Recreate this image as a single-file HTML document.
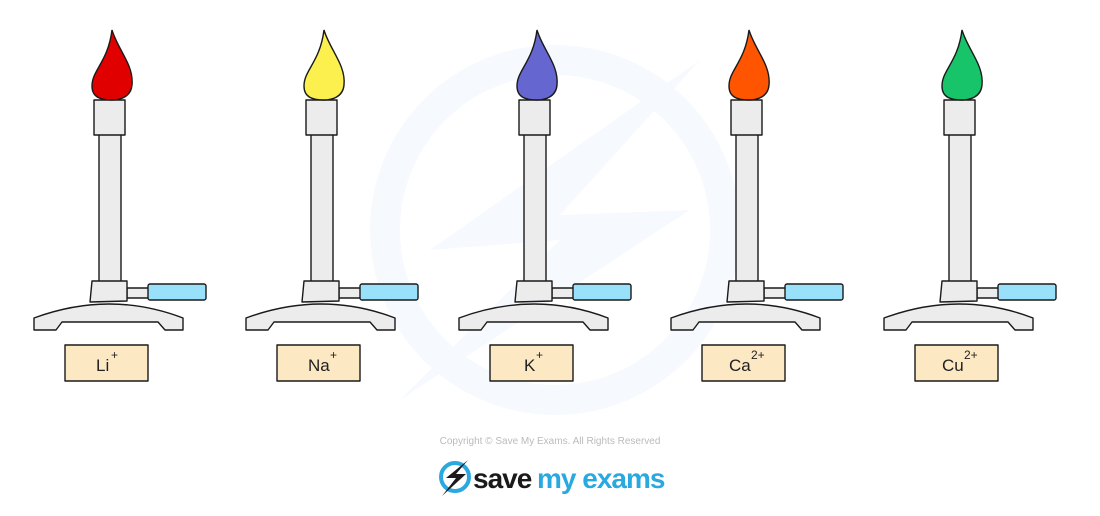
<!DOCTYPE html>
<html><head><style>
body{margin:0;background:#fff;width:1100px;height:511px;overflow:hidden;font-family:"Liberation Sans",sans-serif}
</style></head><body>
<svg width="1100" height="511" viewBox="0 0 1100 511" xmlns="http://www.w3.org/2000/svg">
<defs>
<g id="b" stroke="#1a1a1a" stroke-width="1.4" stroke-linejoin="round">
  <rect x="99" y="134" width="22" height="148" fill="#ececec"/>
  <rect x="127" y="288" width="22" height="10" fill="#ececec"/>
  <rect x="148" y="284" width="58" height="16" rx="2" fill="#99e0fb"/>
  <path d="M34,318 Q110,290 183,318 L183,330 L165,330 L158,322 L62,322 L56,330 L34,330 Z" fill="#ececec"/>
  <path d="M92,281 L127,281 L127,301 L90,302 Z" fill="#ececec"/>
  <rect x="94" y="100" width="31" height="35" fill="#ececec"/>
  <rect x="65" y="345" width="83" height="36" fill="#fde8c4"/>
</g>
</defs>
<g opacity="0.035" fill="#2a7bd0">
<circle cx="555" cy="230" r="170" fill="none" stroke="#2a7bd0" stroke-width="30"/>
<path d="M700,60 L430,250 L560,240 L400,400 L690,210 L560,215 Z"/>
</g>
<g><use href="#b"/><path d="M112,30 C118,50 134,65 132,85 C131,97 120,100 112,100 C100,100 92,97 92,86 C92,70 108,62 112,30 Z" fill="#e00000" stroke="#1a1a1a" stroke-width="1.4"/><text x="96" y="371" font-size="17" fill="#222">Li</text><text x="111" y="359" font-size="12" fill="#222">+</text></g>
<g transform="translate(212,0)"><use href="#b"/><path d="M112,30 C118,50 134,65 132,85 C131,97 120,100 112,100 C100,100 92,97 92,86 C92,70 108,62 112,30 Z" fill="#fbf04e" stroke="#1a1a1a" stroke-width="1.4"/><text x="96" y="371" font-size="17" fill="#222">Na</text><text x="118" y="359" font-size="12" fill="#222">+</text></g>
<g transform="translate(425,0)"><use href="#b"/><path d="M112,30 C118,50 134,65 132,85 C131,97 120,100 112,100 C100,100 92,97 92,86 C92,70 108,62 112,30 Z" fill="#6666d0" stroke="#1a1a1a" stroke-width="1.4"/><text x="99" y="371" font-size="17" fill="#222">K</text><text x="111" y="359" font-size="12" fill="#222">+</text></g>
<g transform="translate(637,0)"><use href="#b"/><path d="M112,30 C118,50 134,65 132,85 C131,97 120,100 112,100 C100,100 92,97 92,86 C92,70 108,62 112,30 Z" fill="#ff5500" stroke="#1a1a1a" stroke-width="1.4"/><text x="92" y="371" font-size="17" fill="#222">Ca</text><text x="114" y="359" font-size="12" fill="#222">2+</text></g>
<g transform="translate(850,0)"><use href="#b"/><path d="M112,30 C118,50 134,65 132,85 C131,97 120,100 112,100 C100,100 92,97 92,86 C92,70 108,62 112,30 Z" fill="#18c46a" stroke="#1a1a1a" stroke-width="1.4"/><text x="92" y="371" font-size="17" fill="#222">Cu</text><text x="114" y="359" font-size="12" fill="#222">2+</text></g>
<text x="550" y="444" font-size="10" fill="#bbb" text-anchor="middle">Copyright © Save My Exams. All Rights Reserved</text>
<circle cx="455" cy="477" r="14" fill="none" stroke="#2aa8e0" stroke-width="4"/>
<path d="M468,460 L446,478 L456,478 L442,496 L466,474 L456,474 Z" fill="#1a1a1a"/>
<text x="473" y="488" font-size="28" font-weight="bold" fill="#1a1a1a" letter-spacing="-1">save</text>
<text x="537" y="488" font-size="28" font-weight="bold" fill="#2aa8e0" letter-spacing="-1">my exams</text>
</svg>
</body></html>
